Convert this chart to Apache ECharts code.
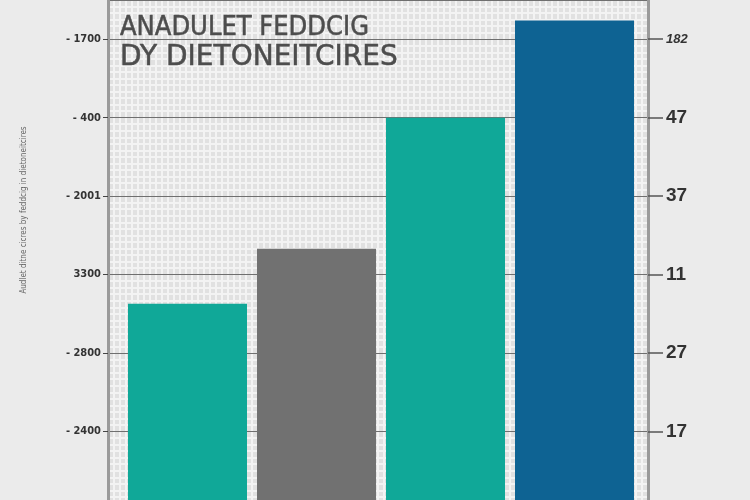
<!DOCTYPE html>
<html>
<head>
<meta charset="utf-8">
<script src="https://cdn.jsdelivr.net/npm/echarts@6/dist/echarts.min.js"></script>
<style>
html,body{margin:0;padding:0;background:#ebebeb;overflow:hidden;}
#c{width:750px;height:510px;}
</style>
</head>
<body>
<div id="c"></div>
<script>
// ---- data ----
var categories = ['A', 'B', 'C', 'D'];
var barValues = [263, 333, 500, 624];
var barColors = ['#10a898', '#717171', '#10a898', '#0e6393'];
var tickValues = [100, 200, 300, 400, 500, 600];
var leftLabels = ['- 2400', '- 2800', '3300', '- 2001', '- 400', '- 1700'];
var rightLabels = ['17', '27', '11', '37', '47', '182'];
var titleLines = ['ANADULET FEDDCIG', 'DY DIETONEITCIRES'];
var axisName = 'Audlet ditne cicres by feddcig in dietoneitcires';

function labelFor(arr, v) {
  var i = tickValues.indexOf(Math.round(v));
  return i >= 0 ? arr[i] : '';
}

var chart = echarts.init(document.getElementById('c'), null, {renderer: 'canvas'});
chart.setOption({
  backgroundColor: '#ebebeb',
  animation: false,
  title: {
    text: '{a|' + titleLines[0] + '}\n{b|' + titleLines[1] + '}',
    left: 115, top: 8,
    textStyle: {
      fontWeight: 'normal',
      rich: {
        a: {fontFamily: '"DejaVu Sans Condensed", sans-serif', fontSize: 27, fontWeight: 'normal', color: '#4d4d4d',
            lineHeight: 30, textBorderColor: '#4d4d4d', textBorderWidth: 0.5},
        b: {fontFamily: '"DejaVu Sans", sans-serif', fontSize: 28, fontWeight: 'normal', color: '#4d4d4d',
            lineHeight: 30, textBorderColor: '#4d4d4d', textBorderWidth: 0.5}
      }
    }
  },
  grid: [
    {left: 108, right: 102, top: 0, bottom: 0, show: true, backgroundColor: '#e1e1e1', borderWidth: 0},
    {left: 123, right: 111, top: 0, bottom: 0}
  ],
  xAxis: [
    {type: 'value', gridIndex: 0, min: 0, max: 90, interval: 1, z: 0,
     axisLine: {show: false}, axisTick: {show: false}, axisLabel: {show: false},
     splitLine: {show: true, lineStyle: {color: '#f3f3f3', width: 2}}},
    {type: 'category', gridIndex: 1, data: categories, show: false}
  ],
  yAxis: [
    {type: 'value', gridIndex: 0, position: 'left', min: 0, max: 650, interval: 100, z: 1,
     name: axisName, nameLocation: 'middle', nameGap: 80, nameRotate: 90,
     nameTextStyle: {fontSize: 8, color: '#666', fontFamily: 'DejaVu Sans Condensed', padding: [0, 0, 0, 90]},
     axisLine: {show: true, lineStyle: {color: '#9a9a9a', width: 3}},
     axisTick: {show: true, length: 5, lineStyle: {color: '#444'}},
     axisLabel: {show: true, showMaxLabel: false, color: '#333', fontSize: 11, fontWeight: 'bold',
       fontFamily: '"DejaVu Sans Condensed", sans-serif', margin: 7,
       formatter: function (v) { return labelFor(leftLabels, v); }},
     splitLine: {show: true, lineStyle: {color: '#6f6f6f', width: 1, type: 'solid'}},
     minorTick: {show: false, splitNumber: 12},
     minorSplitLine: {show: true, lineStyle: {color: '#f3f3f3', width: 2}}},
    {type: 'value', gridIndex: 0, position: 'right', min: 0, max: 650, interval: 100, z: 1,
     axisLine: {show: true, lineStyle: {color: '#9a9a9a', width: 3}},
     axisTick: {show: true, length: 15, lineStyle: {color: '#555', width: 1.5}},
     axisLabel: {show: true, showMaxLabel: false, margin: 18, color: '#333',
       fontFamily: 'Arial, "Liberation Sans", sans-serif', fontWeight: 'bold', fontSize: 19,
       formatter: function (v) {
         var t = labelFor(rightLabels, v);
         return t.length > 2 ? '{s|' + t + '}' : t;
       },
       rich: {s: {fontSize: 13, fontStyle: 'italic', fontWeight: 'bold', color: '#333'}}},
     splitLine: {show: false}},
    {type: 'value', gridIndex: 1, min: 0, max: 650, interval: 100, show: false, splitLine: {show: false}}
  ],
  series: [{
    type: 'bar',
    xAxisIndex: 1, yAxisIndex: 2,
    barWidth: 119,
    data: barValues.map(function (v, i) { return {value: v, itemStyle: {color: barColors[i]}}; })
  }]
});
</script>
</body>
</html>
